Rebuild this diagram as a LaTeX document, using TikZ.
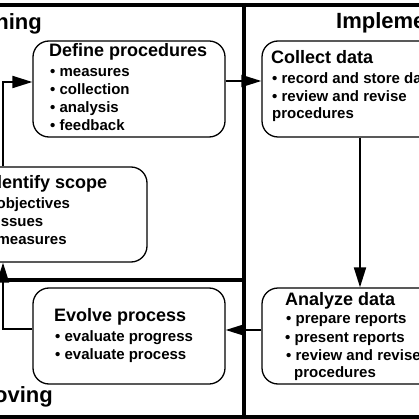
\documentclass[tikz,border=0pt]{standalone}
\usepackage{fontspec}
\setmainfont{Liberation Sans}
\usetikzlibrary{arrows.meta}
\begin{document}
\begin{tikzpicture}[x=1pt,y=-1pt,
  box/.style={draw=black, line width=1.3pt, rounded corners=16pt, inner sep=0pt},
  hd/.style={font=\fontsize{18}{20}\selectfont\bfseries, anchor=base west, inner sep=0pt},
  it/.style={font=\fontsize{15}{17}\selectfont\bfseries, anchor=base west, inner sep=0pt},
  sec/.style={font=\fontsize{22}{24}\selectfont\bfseries, inner sep=0pt},
  arr/.style={line width=2pt, -{Triangle[length=20pt,width=12pt]}},
  sep/.style={line width=4pt}]
\useasboundingbox (0,0) rectangle (419,419);
\clip (0,0) rectangle (419,419);
\fill[white] (0,0) rectangle (419,419);
% separators
\draw[sep] (-5,5) -- (425,5);
\draw[sep] (244,3) -- (244,425);
\draw[sep] (-5,279.5) -- (244,279.5);
\draw[sep] (-5,417) -- (425,417);
% section titles
\node[sec, anchor=base east] (tplan) at (42,30) {Planning};
\node[sec, anchor=base west] (timpl) at (336,29) {Implementation};
\node[sec, anchor=base east] (timpr) at (53,402) {Improving};
% boxes
\node[box, minimum width=192pt, minimum height=96pt] (define) at (129,89) {};
\node[box, minimum width=196pt, minimum height=96pt] (collect) at (360,89) {};
\node[box, minimum width=200pt, minimum height=95pt] (identify) at (47,214.5) {};
\node[box, minimum width=192pt, minimum height=96pt] (evolve) at (129,336) {};
\node[box, minimum width=196pt, minimum height=96pt] (analyze) at (360,336) {};
% define procedures
\node[hd] (d0) at (49,57) {Define procedures};
\node[it] (d1) at (50,77) {• measures};
\node[it] (d2) at (50,95) {• collection};
\node[it] (d3) at (50,113) {• analysis};
\node[it] (d4) at (50,131) {• feedback};
% collect data
\node[hd] (c0) at (271,64) {Collect data};
\node[it] (c1) at (272,84) {• record and store data};
\node[it] (c2) at (272,101.5) {• review and revise};
\node[it] (c3) at (272,119) {procedures};
% identify scope
\node[hd] (i0) at (-14,189) {Identify scope};
\node[it] (i1) at (-13,208) {• objectives};
\node[it] (i2) at (-13,226) {• issues};
\node[it] (i3) at (-13,244) {• measures};
% evolve process
\node[hd] (e0) at (54,321) {Evolve process};
\node[it] (e1) at (55,341) {• evaluate progress};
\node[it] (e2) at (55,359.5) {• evaluate process};
% analyze data
\node[hd] (a0) at (285,305) {Analyze data};
\node[it] (a1) at (286,323) {• prepare reports};
\node[it] (a2) at (285,342) {• present reports};
\node[it] (a3) at (286,360) {• review and revise};
\node[it] (a4) at (294,377) {procedures};
% connectors
\coordinate (lx) at (3,0);
\draw[arr] ([yshift=8pt]define.east) -- ([yshift=8pt]collect.west);
\draw[arr] (collect.south) -- (analyze.north);
\draw[arr] ([yshift=6pt]analyze.west) -- ([yshift=6pt]evolve.east);
\draw[arr] ([yshift=7pt]evolve.west) -| (lx |- identify.south);
\draw[arr] (lx |- identify.north) |- ([yshift=7pt]define.west);
\end{tikzpicture}
\end{document}
